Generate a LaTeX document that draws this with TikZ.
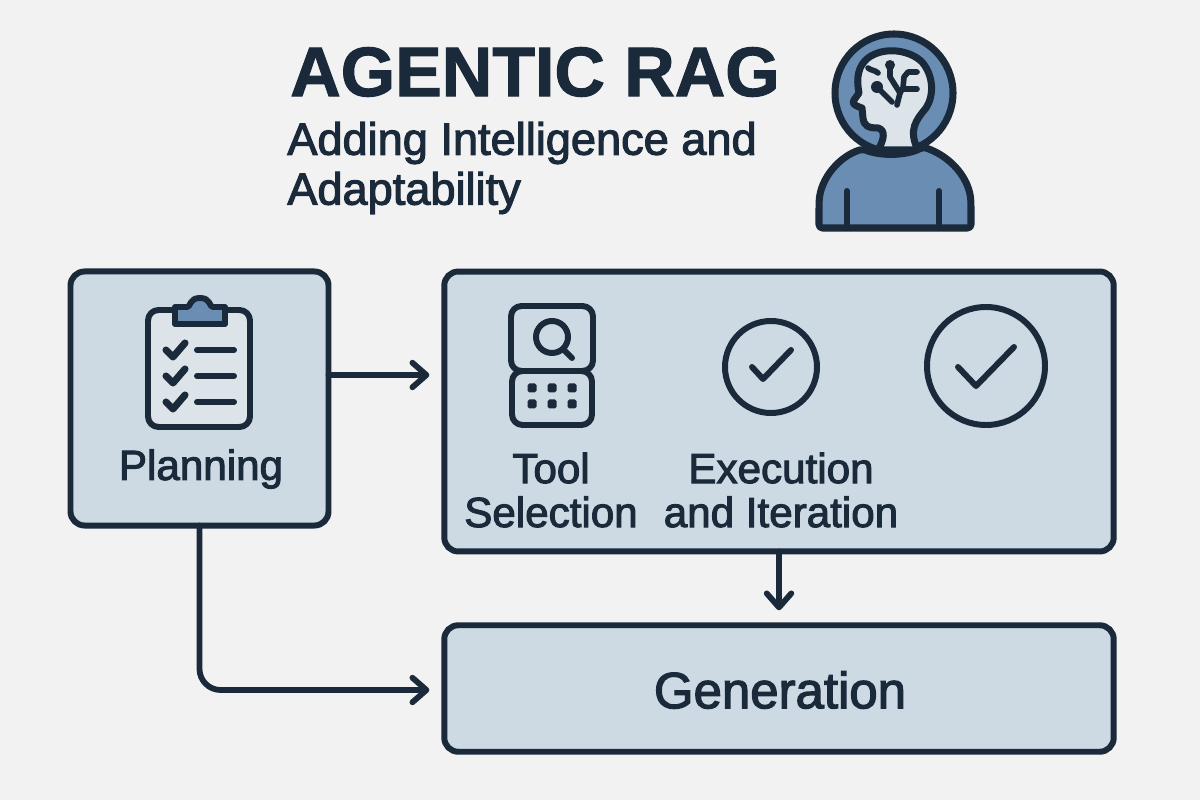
\documentclass[tikz,border=0pt]{standalone}
\usepackage{fontspec}
\setmainfont{Liberation Sans}
\newfontfamily\medfont[FakeBold=2.4]{Liberation Sans}
\newfontfamily\heavyfont[FakeBold=1.5]{Liberation Sans}
\usetikzlibrary{arrows.meta}
\definecolor{pagebg}{HTML}{F2F2F2}
\definecolor{boxfill}{HTML}{CDDAE4}
\definecolor{inkdark}{HTML}{1A2A3A}
\definecolor{iconblue}{HTML}{6A8EB3}
\definecolor{iconlight}{HTML}{DCE4EA}
\tikzset{
  box/.style={draw=inkdark, fill=boxfill, line width=3.4pt, rounded corners=8pt, outer sep=0pt, inner sep=0pt},
  flow/.style={draw=inkdark, line width=3.3pt, line cap=round, shorten >=8.5pt, -{Straight Barb[length=8pt,width=14pt,line width=3.3pt,round]}},
  label/.style={text=inkdark, font=\medfont\fontsize{24}{25}\selectfont, align=center, inner sep=0pt},
  icon/.style={draw=inkdark, line width=3.4pt, line cap=round, line join=round},
  person/.style={draw=inkdark, line width=4pt, line cap=round, line join=round},
  thin icon/.style={draw=inkdark, line width=3.2pt, line cap=round, line join=round}
}
\begin{document}
\begin{tikzpicture}[x=0.02cm, y=-0.02cm]
  \path [fill=pagebg, use as bounding box] (0, 0) rectangle (1200, 800);

  \node [text=inkdark, font=\heavyfont\bfseries\fontsize{39.8}{42}\selectfont, inner sep=0pt] (title) at (535, 72) {AGENTIC RAG};
  \node [text=inkdark, font=\medfont\fontsize{25.7}{28.4}\selectfont, align=left, inner sep=0pt, anchor=west] (subtitle) at (287, 168) {Adding Intelligence and\\Adaptability};

  % person
  \draw [person, fill=iconblue] (894, 93) circle (59);
  \draw [person, fill=iconlight] (878, 150) .. controls (884, 140) and (886, 130) .. (878, 128) .. controls (868, 128) and (864, 126) .. (863, 118) -- (862, 108) .. controls (856, 106) and (851, 104) .. (854, 100) -- (859, 93) .. controls (856, 78) and (858, 66) .. (868, 58) .. controls (884, 46) and (910, 50) .. (922, 62) .. controls (934, 76) and (934, 96) .. (926, 108) .. controls (916, 120) and (908, 130) .. (918, 150) -- cycle;
  \draw [person, fill=iconblue, rounded corners=2pt] (819, 228) -- (819, 205) .. controls (820, 178) and (840, 156) .. (863, 149) .. controls (880, 156) and (906, 156) .. (923, 147) .. controls (950, 156) and (970, 178) .. (971, 205) -- (971, 228) -- cycle;
  \draw [icon] (847, 191) -- (847, 226);
  \draw [icon] (939, 191) -- (939, 226);
  \draw [thin icon] (868, 68) .. controls (872, 71) and (875, 70) .. (878, 73);
  \draw [thin icon] (890, 65) -- (890, 77) -- (900, 93) -- (897, 105);
  \draw [thin icon] (877, 87) -- (892, 102);
  \draw [thin icon] (917, 72) -- (908, 72) -- (904, 77) -- (903, 88) -- (900, 93);
  \draw [thin icon] (917, 89) -- (903, 89);
  \fill [inkdark] (890, 65) circle (5);
  \fill [inkdark] (877, 87) circle (6);

  \node [box, minimum width=259*0.567pt, minimum height=255*0.567pt] (planning) at (199.5, 398.5) {};
  \node [box, minimum width=672*0.567pt, minimum height=281*0.567pt] (tools) at (779, 411.5) {};
  \node [box, minimum width=672*0.567pt, minimum height=127*0.567pt] (generation) at (779, 688.5) {};

  % clipboard
  \draw [icon, fill=iconlight, rounded corners=6pt] (148, 310) rectangle (250, 427);
  \draw [icon, fill=iconblue, line join=round] (175, 307) -- (187, 307) .. controls (191, 307) and (189, 298) .. (200, 298) .. controls (211, 298) and (209, 307) .. (213, 307) -- (225, 307) -- (225, 324) -- (175, 324) -- cycle;
  \foreach \rowy in {350, 376, 402} {
    \draw [person] (166, \rowy) -- (173, \rowy+7) -- (185, \rowy-7);
    \draw [icon] (197, \rowy) -- (234, \rowy);
  }
  \node [label] (planningtext) at (201, 469) {Planning};

  % tool
  \draw [icon, rounded corners=6pt] (511, 306) rectangle (593, 371);
  \draw [icon, rounded corners=6pt] (512, 371) rectangle (592, 425);
  \draw [icon] (552, 337) circle (16);
  \draw [icon] (563, 349) -- (572, 358);
  \foreach \doty in {388, 404} {
    \foreach \dotx in {532, 552, 572} {
      \fill [inkdark, rounded corners=1pt] (\dotx-4.5, \doty-4.5) rectangle (\dotx+4.5, \doty+4.5);
    }
  }
  \node [label] (tooltext) at (551, 490) {Tool\\Selection};

  % checks
  \draw [icon] (771, 367) circle (46);
  \draw [icon] (752, 367) -- (763, 379) -- (791, 350);
  \draw [icon] (986, 366) circle (59);
  \draw [icon] (958, 367) -- (976, 386) -- (1014, 347);
  \node [label] (exectext) at (781, 490) {Execution\\and Iteration};

  \node [text=inkdark, font=\medfont\fontsize{29}{30}\selectfont, inner sep=0pt] (gentext) at (780, 690) {Generation};

  \coordinate (planout) at (planning.east |- 0, 375);
  \coordinate (toolin) at (tools.west |- 0, 375);
  \coordinate (genin) at (generation.west |- 0, 690);
  \draw [flow] (planout) -- (toolin);
  \draw [flow] (tools.south) -- (generation.north);
  \draw [flow, rounded corners=12pt] (planning.south) |- (genin);
\end{tikzpicture}
\end{document}
